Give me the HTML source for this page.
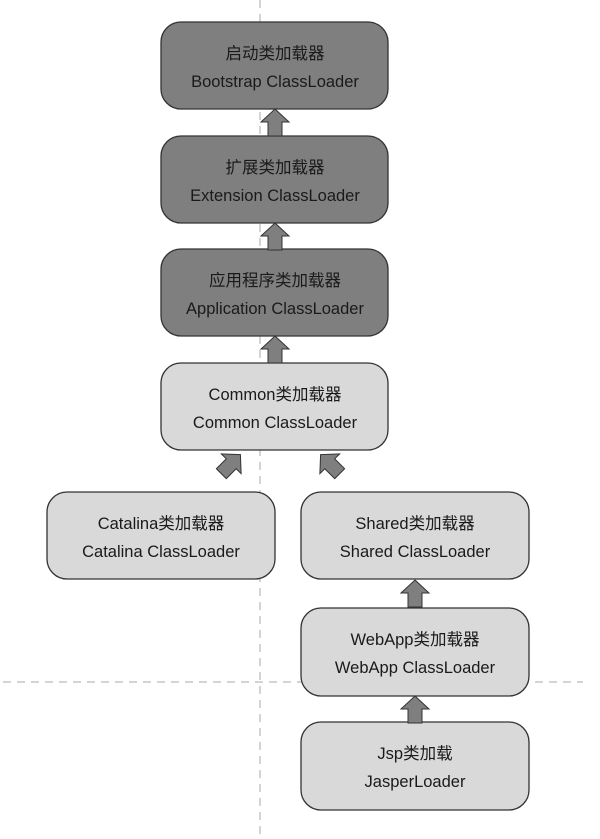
<!DOCTYPE html>
<html><head><meta charset="utf-8"><style>
body{margin:0;background:#fff}
svg text{font-family:"Liberation Sans","Noto Sans CJK SC",sans-serif;font-size:16.5px;fill:#1a1a1a;text-anchor:middle}
</style></head><body>
<svg width="600" height="834" viewBox="0 0 600 834" xmlns="http://www.w3.org/2000/svg">
<line x1="260" y1="0" x2="260" y2="834" stroke="#aaa" stroke-dasharray="8,6" stroke-width="1"/>
<line x1="3" y1="682" x2="583" y2="682" stroke="#aaa" stroke-dasharray="8,6" stroke-width="1"/>
<g stroke="#333" stroke-width="1.3">
<rect x="161" y="22" width="227" height="87" rx="20" fill="#7f7f7f"/>
<rect x="161" y="136" width="227" height="87" rx="20" fill="#7f7f7f"/>
<rect x="161" y="249" width="227" height="87" rx="20" fill="#7f7f7f"/>
<rect x="161" y="363" width="227" height="87" rx="20" fill="#d9d9d9"/>
<rect x="47" y="492" width="228" height="87" rx="20" fill="#d9d9d9"/>
<rect x="301" y="492" width="228" height="87" rx="20" fill="#d9d9d9"/>
<rect x="301" y="608" width="228" height="88" rx="20" fill="#d9d9d9"/>
<rect x="301" y="722" width="228" height="88" rx="20" fill="#d9d9d9"/>
</g>
<g fill="#7f7f7f" stroke="#333" stroke-width="1">
<path id="ua" d="M0,0 L14,13 L7,13 L7,27 L-7,27 L-7,13 L-14,13 Z" transform="translate(275,109)"/>
<path d="M0,0 L14,13 L7,13 L7,27 L-7,27 L-7,13 L-14,13 Z" transform="translate(275,223)"/>
<path d="M0,0 L14,13 L7,13 L7,27 L-7,27 L-7,13 L-14,13 Z" transform="translate(275,336)"/>
<path d="M0,0 L14,13 L7,13 L7,27 L-7,27 L-7,13 L-14,13 Z" transform="translate(415,580)"/>
<path d="M0,0 L14,13 L7,13 L7,27 L-7,27 L-7,13 L-14,13 Z" transform="translate(415,696)"/>
<path d="M0,0 L14,13 L7,13 L7,27 L-7,27 L-7,13 L-14,13 Z" transform="translate(239,456) rotate(45) translate(0,-2)"/>
<path d="M0,0 L14,13 L7,13 L7,27 L-7,27 L-7,13 L-14,13 Z" transform="translate(322,456) rotate(-45) translate(0,-2)"/>
</g>
<text x="275" y="59">启动类加载器</text><text x="275" y="87">Bootstrap ClassLoader</text>
<text x="275" y="173">扩展类加载器</text><text x="275" y="201">Extension ClassLoader</text>
<text x="275" y="286">应用程序类加载器</text><text x="275" y="314">Application ClassLoader</text>
<text x="275" y="400">Common类加载器</text><text x="275" y="428">Common ClassLoader</text>
<text x="161" y="529">Catalina类加载器</text><text x="161" y="557">Catalina ClassLoader</text>
<text x="415" y="529">Shared类加载器</text><text x="415" y="557">Shared ClassLoader</text>
<text x="415" y="645">WebApp类加载器</text><text x="415" y="673">WebApp ClassLoader</text>
<text x="415" y="759">Jsp类加载</text><text x="415" y="787">JasperLoader</text>
</svg>
</body></html>
